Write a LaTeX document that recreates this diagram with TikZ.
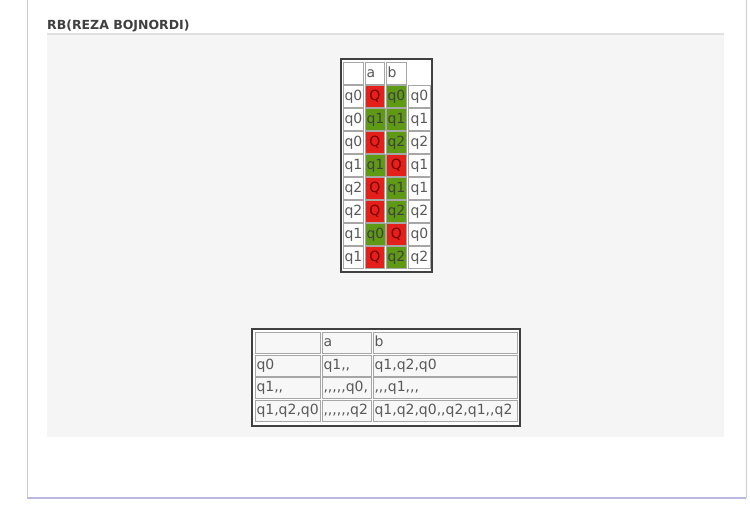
\documentclass[tikz,border=0pt]{standalone}
\usepackage{fontspec}
\setmainfont{DejaVu Sans}[Ligatures=TeXOff]
\begin{document}
\begin{tikzpicture}[x=1pt,y=-1pt,
  cell/.style={draw=gray!70,line width=1pt,anchor=north west,inner sep=1pt,font=\fontsize{14}{14}\selectfont,text=black!65,align=left,text height=10.5,text depth=3}]
\definecolor{rc}{HTML}{E4201A}\definecolor{gc}{HTML}{5E9A14}
\useasboundingbox (0,0) rectangle (750,526);
\fill[white] (0,0) rectangle (750,526);
\draw[gray!40,line width=1pt] (27,0) -- (27,497) -- (746,497) -- (746,0);
\draw[gray!60!blue!40,line width=2pt] (27,498) -- (746,498);
\node[anchor=west,font=\bfseries\fontsize{12.5}{12}\selectfont,text=black!75,inner sep=0] (title) at (47,26) {RB(REZA BOJNORDI)};
\fill[black!4] (47,34) rectangle (724,437);
\draw[black!12,line width=1.5pt] (47,34) -- (724,34);
% table 1
\draw[black!75,line width=1.2pt,fill=white] (341,59) rectangle (432,272);
\node[cell,minimum width=20,minimum height=22] (h0) at (343,62) {};
\node[cell,minimum width=19,minimum height=22,text width=17] (h1) at (365,62) {a};
\node[cell,minimum width=20,minimum height=22,text width=18] (h2) at (386,62) {b};
\foreach \l/\a/\ac/\at/\b/\bc/\bt/\r [count=\j] in {q0/Q/rc/red!45!black/q0/gc/black!75/q0,q0/q1/gc/black!75/q1/gc/black!75/q1,q0/Q/rc/red!45!black/q2/gc/black!75/q2,q1/q1/gc/black!75/Q/rc/red!45!black/q1,q2/Q/rc/red!45!black/q1/gc/black!75/q1,q2/Q/rc/red!45!black/q2/gc/black!75/q2,q1/q0/gc/black!75/Q/rc/red!45!black/q0,q1/Q/rc/red!45!black/q2/gc/black!75/q2}{
  \pgfmathsetmacro\yy{62+23*\j}
  \node[cell,minimum width=20,minimum height=22] (l\j) at (343,\yy) {\l};
  \node[cell,minimum width=19,minimum height=22,fill=\ac,text=\at] (a\j) at (365,\yy) {\a};
  \node[cell,minimum width=20,minimum height=22,fill=\bc,text=\bt] (b\j) at (386,\yy) {\b};
  \node[cell,minimum width=22,minimum height=22] (r\j) at (408,\yy) {\r};}
% table 2
\draw[black!75,line width=1.2pt,fill=white] (252,329) rectangle (520,426);
\foreach \p/\q/\r [count=\j from 0] in {{}/a/b,q0/{q1,,}/{q1,q2,q0},{q1,,}/{,,,,,q0,}/{,,,q1,,,},{q1,q2,q0}/{,,,,,,q2}/{q1,q2,q0,,q2,q1,,q2}}{
  \pgfmathsetmacro\yy{332+22.6*\j}
  \node[cell,fill=black!3,minimum width=65,minimum height=21,text width=63] (p\j) at (255,\yy) {\p};
  \node[cell,fill=black!3,minimum width=49,minimum height=21,text width=47] (q\j) at (322,\yy) {\q};
  \node[cell,fill=black!3,minimum width=144,minimum height=21,text width=142] (s\j) at (373,\yy) {\r};}
\end{tikzpicture}
\end{document}
